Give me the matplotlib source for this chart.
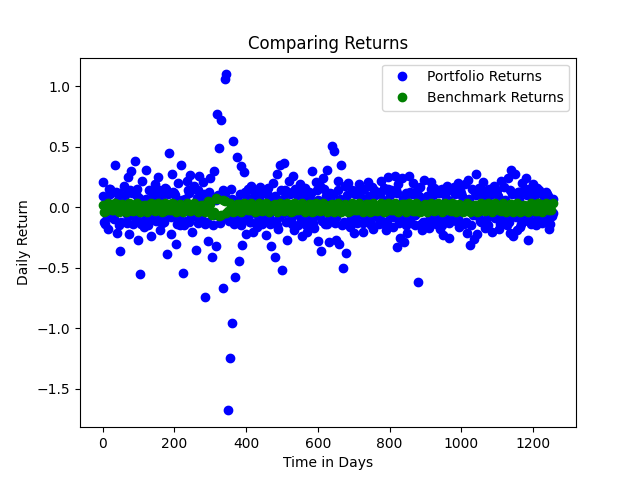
import numpy as np
import matplotlib
matplotlib.use("Agg")
import matplotlib.pyplot as plt

portfolio_main = [
0.21,-0.12,0.08,-0.18,0.15,0.03,-0.09,0.35,-0.21,0.12,-0.36,0.05,
0.18,-0.05,0.25,-0.22,0.30,-0.14,0.38,0.09,-0.27,-0.55,0.22,-0.16,
0.31,-0.08,0.14,-0.24,0.06,0.19,-0.11,0.25,-0.19,0.10,-0.07,0.16,
-0.39,0.45,-0.22,0.28,0.12,-0.30,0.20,-0.15,0.35,-0.54,0.07,0.22,
-0.12,0.27,-0.20,0.18,-0.35,0.14,0.26,-0.09,0.21,-0.74,0.11,-0.28,
0.24,-0.41,0.30,-0.32,0.77,0.49,0.72,-0.67,1.06,1.10,-1.68,-1.25,
-0.96,0.55,-0.58,0.42,-0.44,0.34,-0.31,0.29,-0.22,0.15,-0.12,0.18,
-0.20,0.10,-0.16,0.08,0.17,-0.14,0.12,-0.23,0.16,-0.06,-0.32,0.20,
-0.41,0.28,-0.18,0.35,-0.52,0.37,0.14,-0.27,0.22,-0.10,0.26,-0.19,
0.12,-0.15,0.19,-0.24,0.09,0.16,-0.20,0.13,-0.11,0.30,-0.17,0.21,
-0.28,0.18,-0.36,0.24,-0.14,0.31,-0.29,0.12,0.51,0.47,-0.27,0.22,
-0.30,0.35,-0.50,0.18,-0.38,0.20,-0.16,0.14,-0.21,0.11,-0.13,0.19,
0.08,-0.20,0.15,-0.09,0.21,-0.12,0.17,-0.18,0.10,0.13,-0.14,0.22,
-0.11,0.16,-0.19,0.25,-0.08,0.14,-0.16,0.26,-0.33,0.19,-0.25,0.24,
-0.29,0.12,-0.21,0.26,-0.13,0.20,-0.15,0.10,-0.62,0.17,-0.19,0.23,
-0.12,0.09,-0.17,0.21,-0.10,0.16,-0.14,0.12,-0.18,0.15,-0.23,0.11,
0.18,-0.25,0.14,-0.09,0.17,-0.11,0.20,-0.16,0.12,-0.13,0.19,-0.21,
0.23,-0.31,0.15,-0.26,0.28,-0.22,0.16,-0.12,0.21,-0.17,0.13,-0.15,
0.10,-0.20,0.18,-0.09,0.14,-0.18,0.22,-0.13,0.17,-0.10,0.24,-0.21,
0.31,-0.24,0.28,-0.19,0.13,-0.16,0.20,-0.11,0.24,-0.27,0.15,-0.14,
0.19,-0.12,0.16,-0.09,0.12,-0.13,0.08,-0.10,0.11,-0.18,0.07,-0.05]

portfolio_core = [
0.09,-0.08,0.11,-0.10,0.06,-0.12,0.10,-0.07,0.12,-0.09,0.08,-0.11,
0.07,-0.10,0.12,-0.06,0.09,-0.12,0.11,-0.08,0.10,-0.09,0.06,-0.11,
0.12,-0.07,0.08,-0.10,0.11,-0.12,0.09,-0.06,0.10,-0.08,0.12,-0.11,
0.07,-0.09,0.11,-0.10,0.08,-0.12,0.06,-0.07,0.12,-0.09,0.10,-0.11,
0.09,-0.08,0.07,-0.12,0.11,-0.06,0.10,-0.10,0.08,-0.09,0.12,-0.07,
0.06,-0.11,0.09,-0.10,0.11,-0.08,0.07,-0.12,0.10,-0.09,0.12,-0.06,
0.08,-0.11,0.09,-0.07,0.11,-0.10,0.06,-0.12,0.10,-0.08,0.12,-0.09,
0.07,-0.10,0.11,-0.06,0.09,-0.12,0.08,-0.07,0.10,-0.11,0.12,-0.09,
0.06,-0.08,0.11,-0.10,0.09,-0.12,0.07,-0.06,0.10,-0.11,0.08,-0.09,
0.12,-0.07,0.09,-0.10,0.06,-0.12,0.11,-0.08,0.07,-0.09,0.10,-0.11,
0.08,-0.06,0.12,-0.10,0.09,-0.07]

portfolio_core2 = [
-0.14,0.15,-0.06,0.13,-0.15,0.07,-0.13,0.14,-0.05,0.15,-0.14,0.06,
-0.15,0.13,-0.07,0.14,-0.13,0.15,-0.06,0.13,-0.14,0.05,-0.15,0.14,
-0.06,0.15,-0.13,0.07,-0.14,0.13,-0.15,0.06,-0.13,0.14,-0.07,0.15,
-0.14,0.05,-0.15,0.13,-0.06,0.14,-0.13,0.15,-0.07,0.13,-0.14,0.06,
-0.15,0.14,-0.05,0.13,-0.14,0.15,-0.06,0.13,-0.15,0.07,-0.13,0.14,
-0.06,0.15,-0.14,0.05,-0.13,0.14,-0.15,0.06,-0.14,0.13,-0.07,0.15,
-0.13,0.06,-0.15,0.14,-0.05,0.13,-0.14,0.15,-0.06,0.14,-0.13,0.07,
-0.15,0.13,-0.06,0.14,-0.14,0.05,-0.13,0.15,-0.07,0.14,-0.15,0.06,
-0.13,0.15,-0.05,0.14,-0.14,0.06,-0.15,0.13,-0.07,0.14,-0.13,0.15,
-0.06,0.13,-0.14,0.05,-0.15,0.14,-0.06,0.13,-0.14,0.15,-0.07,0.13,
-0.15,0.14,-0.06,0.13,-0.14,0.07]

benchmark = [
0.02,-0.03,0.01,-0.02,0.03,-0.01,0.02,-0.03,0.03,-0.02,0.01,-0.03,
0.02,-0.01,0.03,-0.02,0.02,-0.03,0.01,-0.02,0.03,-0.03,0.02,-0.01,
0.03,-0.02,0.01,-0.03,0.02,-0.02,0.03,-0.04,0.07,-0.06,0.05,-0.03,
0.02,-0.03,0.03,-0.01,0.02,-0.02,0.01,-0.03,0.03,-0.02,0.02,-0.01,
0.03,-0.03,0.02,-0.02,0.01,-0.03,0.03,-0.01,0.02,-0.02,0.03,-0.03,
0.01,-0.02,0.02,-0.03,0.03,-0.01,0.02,-0.02,0.01,-0.03,0.03,-0.02,
0.02,-0.01,0.03,-0.03,0.02,-0.02,0.01,-0.03,0.03,-0.02,0.02,-0.01,
0.03,-0.02,0.01,-0.03,0.02,-0.03,0.03,-0.01,0.02,-0.02,0.01,-0.03,
0.02,-0.03,0.03,-0.02,0.01,-0.02,0.03,-0.01,0.02,-0.03,0.02,-0.02,
0.03,-0.01,0.02,-0.03,0.01,-0.02,0.03,-0.02,0.02,-0.03,0.01,-0.02,
0.02,-0.03,0.03,-0.01,0.02,-0.02]

benchmark2 = [
-0.04,0.04,-0.02,0.04,-0.04,0.03,-0.04,0.04,-0.03,0.04,-0.04,0.02,
-0.04,0.04,-0.03,0.04,-0.04,0.04,-0.02,0.04,-0.04,0.03,-0.04,0.04,
-0.03,0.04,-0.04,0.02,-0.04,0.05,-0.06,0.08,-0.07,0.06,-0.05,0.04,
-0.04,0.03,-0.04,0.04,-0.02,0.04,-0.04,0.04,-0.03,0.04,-0.04,0.02,
-0.04,0.04,-0.03,0.04,-0.04,0.04,-0.02,0.04,-0.04,0.03,-0.04,0.04,
-0.03,0.04,-0.04,0.02,-0.04,0.04,-0.04,0.03,-0.04,0.04,-0.02,0.04,
-0.04,0.03,-0.04,0.04,-0.03,0.04,-0.04,0.04,-0.02,0.04,-0.04,0.03,
-0.04,0.04,-0.03,0.04,-0.04,0.02,-0.04,0.04,-0.03,0.04,-0.04,0.04,
-0.02,0.04,-0.04,0.03,-0.04,0.04,-0.04,0.02,-0.04,0.04,-0.03,0.04,
-0.04,0.04,-0.02,0.04,-0.04,0.03,-0.04,0.04,-0.04,0.02,-0.04,0.04,
-0.03,0.04,-0.04,0.04,-0.02,0.04]

days_main = np.arange(len(portfolio_main)) * 5
days_core = np.arange(len(portfolio_core)) * 10 + 2
days_core2 = np.arange(len(portfolio_core2)) * 10 + 7
days_bench = np.arange(len(benchmark)) * 10
days_bench2 = np.arange(len(benchmark2)) * 10 + 5

port_days = np.concatenate([days_main, days_core, days_core2])
port_vals = np.concatenate([portfolio_main, portfolio_core, portfolio_core2])
p_order = np.argsort(port_days, kind="stable")
bench_days = np.concatenate([days_bench, days_bench2])
bench_vals = np.concatenate([benchmark, benchmark2])
b_order = np.argsort(bench_days, kind="stable")

fig, ax = plt.subplots(figsize=(6.4, 4.8), dpi=100)
ax.plot(port_days[p_order], port_vals[p_order], 'o', color='blue', label='Portfolio Returns')
ax.plot(bench_days[b_order], bench_vals[b_order], 'o', color='green', label='Benchmark Returns')
ax.set_title('Comparing Returns')
ax.set_xlabel('Time in Days')
ax.set_ylabel('Daily Return')
ax.legend(loc='upper right')
fig.savefig('out.png')
